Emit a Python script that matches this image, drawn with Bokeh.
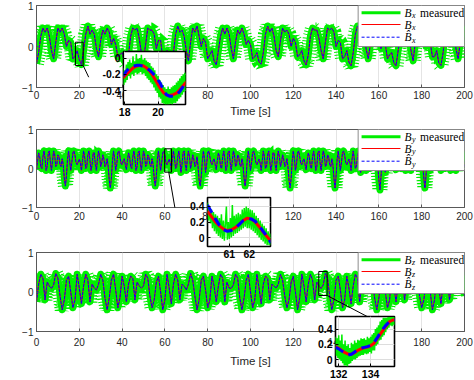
import numpy as np
from bokeh.plotting import figure
from bokeh.layouts import column
from bokeh.models import Range1d, FixedTicker, Label, Arrow
from bokeh.core.properties import value
from bokeh.embed import file_html
from bokeh.resources import INLINE

# ---------------- data ----------------
x_ticks = [0, 20, 40, 60, 80, 100, 120, 140, 160, 180, 200]

# B_x, sampled every 1 s from t = 0 s
bx_true = [
 -0.42, -0.15, 0.25, 0.45, 0.35, 0.45, 0.25, -0.1, -0.3, 0.1, 0.45, 0.35, 0.45, 0.3, 0.0, 0.15, 0.1, -0.3, -0.24, -0.1, -0.32,
 -0.44, -0.1, 0.3, 0.5, 0.3, 0.4, 0.3, -0.05, -0.25, 0.15, 0.4, 0.3, 0.45, 0.35, 0.05, 0.2, 0.05, -0.25, -0.2, -0.15, -0.35,
 -0.42, -0.2, 0.25, 0.45, 0.4, 0.45, 0.2, -0.15, -0.3, 0.05, 0.45, 0.4, 0.4, 0.3, -0.05, 0.15, 0.15, -0.3, -0.25, -0.1, -0.3,
 -0.45, -0.15, 0.3, 0.5, 0.35, 0.4, 0.25, -0.1, -0.35, 0.1, 0.45, 0.35, 0.5, 0.25, 0.0, 0.2, 0.1, -0.3, -0.2, -0.1, -0.35,
 -0.45, -0.1, 0.25, 0.45, 0.3, 0.45, 0.3, -0.05, -0.3, 0.1, 0.4, 0.3, 0.45, 0.3, 0.05, 0.15, 0.05, -0.3, -0.25, -0.15, -0.38,
 -0.43, -0.15, 0.3, 0.5, 0.35, 0.45, 0.25, -0.1, -0.25, 0.15, 0.45, 0.35, 0.4, 0.3, 0.0, 0.2, 0.1, -0.25, -0.2, -0.1, -0.35,
 -0.45, -0.2, 0.25, 0.45, 0.4, 0.4, 0.2, -0.1, -0.3, 0.1, 0.45, 0.4, 0.45, 0.35, 0.0, 0.15, 0.1, -0.3, -0.25, -0.1, -0.38,
 -0.47, -0.15, 0.3, 0.5, 0.35, 0.45, 0.3, -0.05, -0.3, 0.05, 0.4, 0.35, 0.5, 0.3, -0.05, 0.2, 0.05, -0.3, -0.2, -0.15, -0.4,
 -0.47, -0.1, 0.25, 0.45, 0.35, 0.4, 0.25, -0.1, -0.35, 0.1, 0.45, 0.3, 0.45, 0.3, 0.0, 0.15, 0.1, -0.25, -0.25, -0.1, -0.4,
 -0.46, -0.15, 0.3, 0.5, 0.3, 0.45, 0.25, -0.05, -0.3, 0.1, 0.4, 0.35,
]
# B_y, sampled every 0.5 s from t = 0 s
by_true = [
 -0.03, 0.2, 0.4, 0.3, 0.05, 0.0, 0.3, 0.45, 0.25, -0.05, 0.05, 0.4, 0.45, 0.15, -0.05, 0.2, 0.45, 0.35, 0.05, 0.1, 0.35,
 0.3, 0.1, 0.05, 0.25, 0.1, -0.25, -0.45, -0.2, 0.25, 0.45, 0.2, -0.05, 0.15, 0.4, 0.45, 0.33, 0.15, 0.1, 0.17, 0.24, 0.14,
 -0.05, 0.2, 0.45, 0.3, 0.0, 0.05, 0.35, 0.45, 0.2, -0.05, 0.1, 0.4, 0.4, 0.1, -0.05, 0.25, 0.45, 0.3, 0.05, 0.15, 0.35,
 0.25, 0.05, 0.1, 0.25, 0.05, -0.3, -0.5, -0.25, 0.2, 0.45, 0.25, -0.05, 0.1, 0.4, 0.45, 0.3, 0.12, 0.1, 0.2, 0.25, 0.1,
 -0.03, 0.2, 0.4, 0.3, 0.05, 0.0, 0.3, 0.45, 0.25, -0.05, 0.05, 0.4, 0.45, 0.15, -0.05, 0.2, 0.45, 0.35, 0.05, 0.1, 0.35,
 0.3, 0.1, 0.05, 0.25, 0.1, -0.25, -0.45, -0.2, 0.25, 0.45, 0.2, -0.05, 0.15, 0.4, 0.45, 0.33, 0.15, 0.1, 0.17, 0.24, 0.14,
 -0.05, 0.25, 0.45, 0.25, 0.0, 0.05, 0.3, 0.45, 0.2, -0.1, 0.1, 0.4, 0.45, 0.1, -0.05, 0.25, 0.45, 0.3, 0.0, 0.15, 0.35,
 0.25, 0.05, 0.1, 0.3, 0.05, -0.3, -0.45, -0.2, 0.2, 0.45, 0.25, -0.1, 0.1, 0.4, 0.45, 0.3, 0.15, 0.1, 0.2, 0.25, 0.1,
 -0.03, 0.2, 0.4, 0.3, 0.05, 0.0, 0.3, 0.45, 0.25, -0.05, 0.05, 0.4, 0.45, 0.15, -0.05, 0.2, 0.45, 0.35, 0.05, 0.1, 0.35,
 0.3, 0.1, 0.05, 0.25, 0.1, -0.25, -0.45, -0.2, 0.25, 0.45, 0.2, -0.05, 0.15, 0.4, 0.45, 0.33, 0.15, 0.1, 0.17, 0.24, 0.14,
 -0.05, 0.2, 0.45, 0.3, 0.0, 0.05, 0.35, 0.45, 0.2, -0.05, 0.1, 0.4, 0.4, 0.1, -0.05, 0.25, 0.45, 0.3, 0.05, 0.15, 0.35,
 0.25, 0.05, 0.1, 0.25, 0.05, -0.3, -0.5, -0.25, 0.2, 0.45, 0.25, -0.05, 0.1, 0.4, 0.45, 0.3, 0.12, 0.1, 0.2, 0.25, 0.1,
 -0.03, 0.2, 0.4, 0.3, 0.05, 0.0, 0.3, 0.45, 0.25, -0.05, 0.05, 0.4, 0.45, 0.15, -0.05, 0.2, 0.45, 0.35, 0.05, 0.1, 0.35,
 0.3, 0.1, 0.05, 0.25, 0.1, -0.25, -0.5, -0.2, 0.25, 0.45, 0.2, -0.05, 0.15, 0.4, 0.45, 0.33, 0.15, 0.1, 0.17, 0.24, 0.14,
 -0.05, 0.25, 0.45, 0.25, 0.0, 0.05, 0.3, 0.45, 0.2, -0.1, 0.1, 0.4, 0.45, 0.1, -0.05, 0.25, 0.45, 0.3, 0.0, 0.15, 0.35,
 0.25, 0.05, 0.1, 0.3, 0.05, -0.3, -0.55, -0.2, 0.2, 0.45, 0.25, -0.1, 0.1, 0.4, 0.45, 0.3, 0.15, 0.1, 0.2, 0.25, 0.1,
 -0.03, 0.2, 0.4, 0.3, 0.05, 0.0, 0.3, 0.45, 0.25, -0.05, 0.05, 0.4, 0.45, 0.15, -0.05, 0.2, 0.45, 0.35, 0.05, 0.1, 0.35,
 0.3, 0.1, 0.05, 0.25, 0.1, -0.25, -0.5, -0.2, 0.25, 0.45, 0.2, -0.05, 0.15, 0.4, 0.45, 0.33, 0.15, 0.1, 0.17, 0.24, 0.14,
 -0.05, 0.2, 0.45, 0.3, 0.0, 0.05, 0.35, 0.45, 0.2, -0.05, 0.1, 0.4, 0.4, 0.1, -0.05, 0.25, 0.45, 0.3, 0.05, 0.15, 0.35,
 0.25, 0.05,
]
# B_z, sampled every 1 s from t = 0 s
bz_true = [
 -0.25, 0.2, 0.45, 0.35, -0.2, 0.25, 0.15, 0.09, 0.18, 0.47, 0.35, -0.1, -0.45, -0.2, 0.3, 0.4, 0.0, -0.4, -0.2, 0.45, 0.1,
 -0.3, 0.15, 0.45, 0.3, -0.25, 0.2, 0.1, 0.05, 0.2, 0.45, 0.3, -0.15, -0.45, -0.15, 0.3, 0.45, 0.05, -0.4, -0.15, 0.4, 0.15,
 -0.25, 0.2, 0.4, 0.35, -0.2, 0.25, 0.15, 0.1, 0.15, 0.45, 0.35, -0.1, -0.4, -0.2, 0.25, 0.4, 0.0, -0.45, -0.2, 0.45, 0.1,
 -0.3, 0.2, 0.45, 0.3, -0.2, 0.2, 0.15, 0.05, 0.2, 0.47, 0.3, -0.1, -0.45, -0.2, 0.3, 0.4, 0.05, -0.4, -0.2, 0.4, 0.15,
 -0.25, 0.15, 0.45, 0.35, -0.25, 0.25, 0.1, 0.09, 0.18, 0.45, 0.35, -0.15, -0.45, -0.15, 0.3, 0.45, 0.0, -0.4, -0.2, 0.45, 0.1,
 -0.3, 0.2, 0.4, 0.35, -0.2, 0.2, 0.15, 0.1, 0.2, 0.45, 0.3, -0.1, -0.4, -0.2, 0.25, 0.4, 0.0, -0.45, -0.15, 0.45, 0.15,
 -0.25, 0.2, 0.45, 0.3, -0.2, 0.25, 0.15, 0.09, 0.18, 0.47, 0.35, -0.1, -0.45, -0.2, 0.3, 0.4, 0.05, -0.4, -0.2, 0.4, 0.1,
 -0.3, 0.15, 0.45, 0.35, -0.25, 0.2, 0.1, 0.05, 0.2, 0.45, 0.3, -0.15, -0.45, -0.15, 0.3, 0.45, 0.0, -0.4, -0.2, 0.45, 0.15,
 -0.25, 0.2, 0.4, 0.35, -0.2, 0.25, 0.15, 0.1, 0.15, 0.45, 0.35, -0.1, -0.4, -0.2, 0.25, 0.4, 0.0, -0.45, -0.2, 0.45, 0.1,
 -0.3, 0.2, 0.45, 0.3, -0.2, 0.2, 0.15, 0.05, 0.2, 0.47, 0.3, -0.1,
]

# inset 1 (Bx, 17.9 .. 21.7 s)
ins1_t0 = 17.9
ins1_true = [-0.245, -0.2, -0.16, -0.12, -0.1, -0.09, -0.095, -0.12, -0.16, -0.22,
             -0.29, -0.36, -0.42, -0.455, -0.46, -0.45, -0.43, -0.39, -0.34, -0.29]
ins1_hat = [-0.22, -0.16, -0.12, -0.1, -0.09, -0.09, -0.1, -0.12, -0.15, -0.19,
            -0.24, -0.3, -0.38, -0.45, -0.47, -0.47, -0.45, -0.41, -0.35, -0.29]
ins1_meas = [-0.12, -0.33, -0.15, -0.30, -0.08, -0.27, -0.05, -0.22, -0.02, -0.25,
             -0.06, -0.2, 0.02, -0.22, -0.04, -0.18, 0.05, -0.2, -0.01, -0.19,
             0.0, -0.17, 0.04, -0.2, -0.02, -0.19, 0.0, -0.22, -0.03, -0.25,
             -0.05, -0.27, -0.06, -0.3, -0.1, -0.32, -0.12, -0.36, -0.15, -0.4,
             -0.2, -0.43, -0.22, -0.48, -0.27, -0.5, -0.3, -0.55, -0.33, -0.56,
             -0.36, -0.57, -0.38, -0.57, -0.35, -0.57, -0.38, -0.56, -0.36, -0.57,
             -0.34, -0.55, -0.33, -0.55, -0.3, -0.53, -0.28, -0.5, -0.25, -0.48,
             -0.22, -0.45, -0.2, -0.42, -0.18, -0.4, -0.17]
# inset 2 (By, 59.9 .. 63.1 s)
ins2_t0 = 59.9
ins2_true = [0.34, 0.27, 0.2, 0.15, 0.11, 0.09, 0.1, 0.13, 0.17, 0.22, 0.25, 0.24, 0.2, 0.14, 0.07, 0.01, -0.05]
ins2_hat = [0.42, 0.33, 0.24, 0.16, 0.1, 0.08, 0.09, 0.12, 0.17, 0.22, 0.245, 0.24, 0.21, 0.15, 0.08, 0.01, -0.07]
ins2_meas = [0.45, 0.22, 0.40, 0.18, 0.36, 0.12, 0.33, 0.08, 0.30, 0.05,
             0.28, 0.02, 0.25, 0.0, 0.30, -0.02, 0.22, -0.04, 0.18, 0.40,
             -0.03, 0.20, -0.02, 0.25, 0.0, 0.42, 0.02, 0.28, 0.05, 0.30,
             0.06, 0.32, 0.08, 0.30, 0.10, 0.36, 0.12, 0.38, 0.14, 0.40,
             0.12, 0.38, 0.12, 0.36, 0.10, 0.35, 0.08, 0.32, 0.06, 0.28,
             0.03, 0.25, 0.0, 0.22, -0.03, 0.18, -0.05, 0.15, -0.08, 0.12,
             -0.1, 0.08, -0.1, 0.05, -0.1]
# inset 3 (Bz, 131.8 .. 135.6 s)
ins3_t0 = 131.8
ins3_true = [0.17, 0.15, 0.12, 0.09, 0.07, 0.07, 0.09, 0.12, 0.14, 0.155,
             0.165, 0.18, 0.21, 0.27, 0.33, 0.39, 0.45, 0.5, 0.52, 0.52]
ins3_hat = [0.16, 0.14, 0.11, 0.08, 0.06, 0.07, 0.1, 0.13, 0.15, 0.16,
            0.17, 0.185, 0.22, 0.28, 0.35, 0.41, 0.46, 0.5, 0.52, 0.52]
ins3_meas = [0.30, 0.05, 0.28, 0.02, 0.32, 0.0, 0.25, -0.02, 0.33, -0.05,
             0.2, -0.08, 0.25, -0.08, 0.18, -0.09, 0.2, -0.06, 0.15, -0.05,
             0.22, -0.02, 0.2, 0.0, 0.25, 0.0, 0.22, 0.02, 0.26, 0.04,
             0.25, 0.05, 0.28, 0.06, 0.27, 0.06, 0.28, 0.08, 0.26, 0.07,
             0.3, 0.08, 0.28, 0.1, 0.3, 0.08, 0.33, 0.12, 0.35, 0.12,
             0.4, 0.18, 0.42, 0.2, 0.45, 0.25, 0.5, 0.26, 0.52, 0.3,
             0.55, 0.32, 0.55, 0.36, 0.55, 0.4, 0.56, 0.42, 0.56, 0.45,
             0.56, 0.44, 0.56, 0.46, 0.56, 0.45, 0.55]

GREEN = "#00ee00"
RED = "#ff0000"
BLUE = "#0000ff"
AX = "#595959"
TXT = "#262626"
SANS = "Liberation Sans"
SERIF = "Liberation Serif"

W = 474
LEFT, RIGHT = 36, 10


def main_fig(series, dt, sub, top_pad, fh, bot_pad, xlabel, tick_gap, zoom_box, connector):
    ppu = fh / 2.0  # pixels per unit of B
    t = dt * np.arange(len(series))
    p = figure(width=W, height=top_pad + fh + bot_pad, x_range=Range1d(0, 200), y_range=Range1d(-1, 1),
               output_backend="svg", toolbar_location=None,
               min_border_left=LEFT, min_border_right=RIGHT, min_border_top=top_pad, min_border_bottom=bot_pad)
    p.outline_line_color = AX
    for ax in (p.xaxis[0], p.yaxis[0]):
        ax.axis_line_color = AX
        ax.major_tick_line_color = AX
        ax.major_tick_in = 3
        ax.major_tick_out = 0
        ax.minor_tick_line_color = None
        ax.major_label_text_font = SANS
        ax.major_label_text_font_size = "10px"
        ax.major_label_text_color = TXT
        ax.major_label_standoff = 3
    p.xaxis.major_label_standoff = tick_gap
    p.xaxis.ticker = FixedTicker(ticks=x_ticks)
    p.yaxis.ticker = FixedTicker(ticks=[-1, 0, 1])
    if xlabel:
        p.xaxis.axis_label = "Time [s]"
        p.xaxis.axis_label_text_font = SANS
        p.xaxis.axis_label_text_font_style = "normal"
        p.xaxis.axis_label_text_font_size = "11.5px"
        p.xaxis.axis_label_text_color = TXT
        p.xaxis.axis_label_standoff = tick_gap
    p.xgrid.grid_line_color = "#e4e4e4"
    p.ygrid.grid_line_color = "#e4e4e4"

    # measured signal: a noisy green band around the true field
    p.line(t, series, line_color=GREEN, line_width=7, line_join="round")
    p.line(t, series, line_color=GREEN, line_width=15, line_dash="1 2")
    p.line(t, series, line_color=RED, line_width=1)
    p.line(t, series, line_color=BLUE, line_width=1, line_dash="3 1")

    l, r, b, tp = zoom_box
    p.quad(left=[l], right=[r], bottom=[b], top=[tp], fill_color=None, line_color="black", line_width=1)
    p.add_layout(Arrow(end=None, x_start=connector[0], y_start=connector[1],
                       x_end=connector[2], y_end=connector[3], line_color="black", line_width=1))

    # legend (MATLAB style, top right), offsets in px from the frame top
    p.quad(left=[150.3], right=[200], bottom=[1 - 41 / ppu], top=[1], fill_color="white",
           line_color="#8c8c8c", line_width=1)
    ys = [1 - 7.3 / ppu, 1 - 19.0 / ppu, 1 - 31.7 / ppu]
    p.segment(x0=[151.9], x1=[170.1], y0=[ys[0]], y1=[ys[0]], line_color=GREEN, line_width=3)
    p.segment(x0=[151.9], x1=[170.1], y0=[ys[1]], y1=[ys[1]], line_color=RED, line_width=1)
    p.segment(x0=[151.9], x1=[170.1], y0=[ys[2]], y1=[ys[2]], line_color=BLUE, line_width=1, line_dash="3 2")
    for yy, main, extra in zip(ys, ["B", "B", "B\u0302"], ["measured", "", ""]):
        p.text(x=[172.0], y=[yy], text=[main], text_font=value(SERIF), text_font_style="italic",
               text_font_size="11.5px", text_baseline="middle", text_align="left", text_color="black")
        p.text(x=[172.0], y=[yy], text=[sub], x_offset=7.5, y_offset=3, text_font=value(SERIF),
               text_font_style="italic", text_font_size="8px", text_baseline="middle",
               text_align="left", text_color="black")
        if extra:
            p.text(x=[172.0], y=[yy], text=[extra], x_offset=15.5, text_font=value(SERIF),
                   text_font_size="11.5px", text_baseline="middle", text_align="left", text_color="black")

    # y-axis label  B_sub [G]  (rotated), offsets in px from the frame top
    for txt, off, dx, size in (("B", 51, -27, "12px"), (sub, 39.5, -23.5, "8.5px"), ("[G]", 30, -27, "12px")):
        p.add_layout(Label(x=0, y=1 - off / ppu, x_units="data", y_units="data", x_offset=dx, text=txt,
                           angle=90, angle_units="deg", text_font=SANS, text_font_size=size,
                           text_baseline="middle", text_align="left", text_color=TXT))
    return p


def inset_fig(t0, meas, true, hat, xr, yr, xt, yt, fw, fh):
    q = figure(width=30 + fw + 3, height=3 + fh + 18, x_range=Range1d(*xr), y_range=Range1d(*yr),
               output_backend="svg", toolbar_location=None, border_fill_color=None,
               background_fill_color="white", min_border_left=30, min_border_right=3,
               min_border_top=3, min_border_bottom=18)
    q.outline_line_color = "black"
    q.outline_line_width = 1.6
    for ax in (q.xaxis[0], q.yaxis[0]):
        ax.axis_line_color = None
        ax.major_tick_line_color = "black"
        ax.major_tick_in = 3
        ax.major_tick_out = 0
        ax.minor_tick_line_color = None
        ax.major_label_text_font = SANS
        ax.major_label_text_font_style = "bold"
        ax.major_label_text_font_size = "10.5px"
        ax.major_label_text_color = "black"
        ax.major_label_standoff = 3
    q.xaxis.ticker = FixedTicker(ticks=xt)
    q.yaxis.ticker = FixedTicker(ticks=yt)
    q.yaxis.major_label_overrides = {v: ("0" if v == 0 else f"{v:.1f}") for v in yt}
    q.xgrid.grid_line_color = "#dddddd"
    q.ygrid.grid_line_color = "#dddddd"
    tm = t0 + 0.05 * np.arange(len(meas))
    tt = t0 + 0.2 * np.arange(len(true))
    q.line(tm, meas, line_color=GREEN, line_width=1.5)
    q.line(tt, true, line_color=RED, line_width=3)
    q.line(tt, hat, line_color=BLUE, line_width=3, line_dash="9 6")
    return q


# panel frames (page px): top pad, frame height, bottom pad
f1 = main_fig(bx_true, 1.0, "x", 5, 82, 35, True, 3, (18.2, 21.8, -0.463, 0.105), (21.8, -0.463, 24.4, -0.749))
f2 = main_fig(by_true, 0.5, "y", 7, 78, 30, False, 4, (59.9, 63.1, -0.095, 0.505), (61.8, -0.095, 65.7, -1.333))
f3 = main_fig(bz_true, 1.0, "z", 15, 79, 49, True, 6, (131.9, 135.8, -0.089, 0.519), (135.8, -0.089, 154.5, -0.62))

i1 = inset_fig(ins1_t0, ins1_meas, ins1_true, ins1_hat, (17.93, 21.64), (-0.57, 0.08),
               [18, 20], [-0.4, -0.2, 0], 75, 53)
i2 = inset_fig(ins2_t0, ins2_meas, ins2_true, ins2_hat, (59.9, 63.07), (-0.116, 0.516),
               [61, 62], [0, 0.2, 0.4], 76, 49)
i3 = inset_fig(ins3_t0, ins3_meas, ins3_true, ins3_hat, (131.8, 135.5), (-0.092, 0.566),
               [132, 134], [0, 0.2, 0.4], 72, 50)

# place the insets over the panels (page coordinates of each inset frame)
H_TOTAL = f1.height + f2.height + f3.height
for fig, fx, fy in ((i1, 117, 51), (i2, 201, 197), (i3, 329, 316)):
    top = fy - 3
    left = fx - 30
    fig.margin = (top - H_TOTAL, 0, H_TOTAL - top - fig.height, left)

page = column(f1, f2, f3, i1, i2, i3, spacing=0)
open("out.html", "w").write(file_html(page, INLINE))
